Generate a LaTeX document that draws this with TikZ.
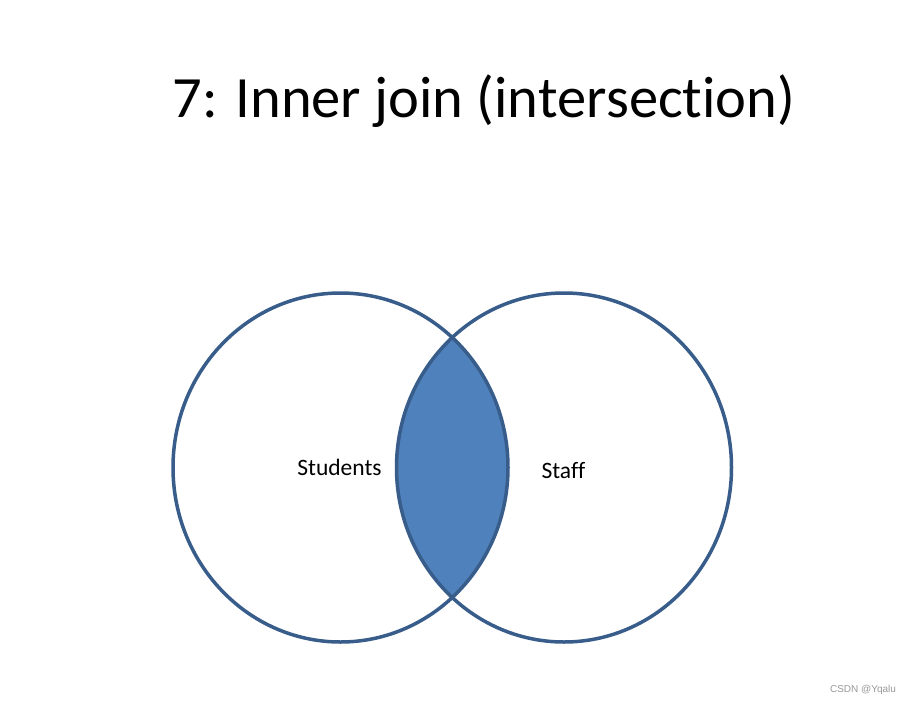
\documentclass[tikz,border=0pt]{standalone}
\usepackage{fontspec}
\setmainfont[Ligatures=NoCommon,RawFeature=-calt]{Carlito}
\newfontfamily\wmfont{Liberation Sans}
\definecolor{edgeblue}{HTML}{385D8A}
\definecolor{fillblue}{HTML}{4F81BD}
\begin{document}
\begin{tikzpicture}[x=1pt,y=-1pt,
  setline/.style={draw=edgeblue,line width=3.5pt},
  lbl/.style={font=\fontsize{23.5}{28}\selectfont,inner sep=0pt,anchor=base}]
\useasboundingbox (0,0) rectangle (911,702);
\fill[white] (0,0) rectangle (911,702);
\begin{scope}
  \clip (340.5,467.5) ellipse [x radius=167.5, y radius=174.5];
  \fill[fillblue] (564,467.5) ellipse [x radius=167.5, y radius=174.5];
\end{scope}
\draw[setline] (340.5,467.5) ellipse [x radius=167.5, y radius=174.5];
\draw[setline] (564,467.5) ellipse [x radius=167.5, y radius=174.5];
\node[inner sep=0pt,anchor=base,font=\fontsize{58.5}{70}\selectfont] (title) at (484,117) {7: Inner join (int\kern0pt ersect\kern0pt ion)};
\node[lbl] (students) at (339.5,475) {Students};
\node[lbl] (staff) at (563.5,478) {Staf\kern0pt f};
\node[inner sep=0pt,anchor=base,text=black!40,font=\wmfont\fontsize{10}{12}\selectfont] (wm) at (863,692) {CSDN @Yqalu};
\end{tikzpicture}
\end{document}
